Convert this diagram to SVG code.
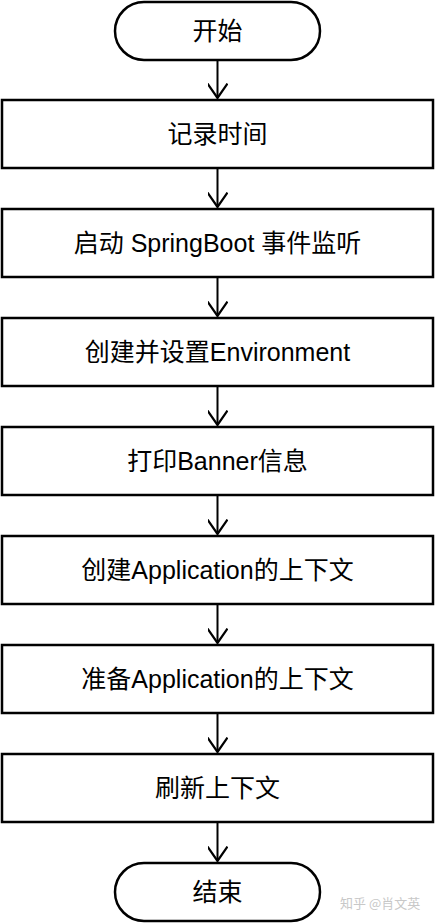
<svg xmlns="http://www.w3.org/2000/svg" width="435" height="924" viewBox="0 0 435 924">
<defs>
<style>
.shape{fill:#fff;stroke:#000;stroke-width:2.5}
.lbl{font-family:"Liberation Sans","Noto Sans CJK SC",sans-serif;font-size:25px;fill:#000;text-anchor:middle}
.conn{stroke:#000;stroke-width:2;fill:none}
.wm{font-family:"Noto Sans CJK SC",sans-serif;font-size:13px;fill:#c8c8c8}
</style>
<marker id="arr" markerWidth="16" markerHeight="20" refX="13" refY="9" orient="auto" markerUnits="userSpaceOnUse" viewBox="0 0 14 18">
<path d="M0,0 L13,9 L0,18" fill="none" stroke="#000" stroke-width="2"/>
</marker>
</defs>
<rect width="435" height="924" fill="#fff"/>
<g id="connectors">
<line class="conn" x1="217.5" y1="60" x2="217.5" y2="98" marker-end="url(#arr)"/>
<line class="conn" x1="217.5" y1="168" x2="217.5" y2="207" marker-end="url(#arr)"/>
<line class="conn" x1="217.5" y1="277" x2="217.5" y2="316" marker-end="url(#arr)"/>
<line class="conn" x1="217.5" y1="386" x2="217.5" y2="425" marker-end="url(#arr)"/>
<line class="conn" x1="217.5" y1="495" x2="217.5" y2="534" marker-end="url(#arr)"/>
<line class="conn" x1="217.5" y1="604" x2="217.5" y2="643" marker-end="url(#arr)"/>
<line class="conn" x1="217.5" y1="713" x2="217.5" y2="752" marker-end="url(#arr)"/>
<line class="conn" x1="217.5" y1="822" x2="217.5" y2="861" marker-end="url(#arr)"/>
</g>
<g id="start">
<rect class="shape" x="115" y="2" width="205" height="58" rx="29" ry="29"/>
<text class="lbl" x="217.5" y="40">开始</text>
</g>
<g id="n1">
<rect class="shape" x="2" y="100" width="431" height="68"/>
<text class="lbl" x="217.5" y="143">记录时间</text>
</g>
<g id="n2">
<rect class="shape" x="2" y="209" width="431" height="68"/>
<text class="lbl" x="217.5" y="252">启动 SpringBoot 事件监听</text>
</g>
<g id="n3">
<rect class="shape" x="2" y="318" width="431" height="68"/>
<text class="lbl" x="217.5" y="361">创建并设置Environment</text>
</g>
<g id="n4">
<rect class="shape" x="2" y="427" width="431" height="68"/>
<text class="lbl" x="217.5" y="470">打印Banner信息</text>
</g>
<g id="n5">
<rect class="shape" x="2" y="536" width="431" height="68"/>
<text class="lbl" x="217.5" y="579">创建Application的上下文</text>
</g>
<g id="n6">
<rect class="shape" x="2" y="645" width="431" height="68"/>
<text class="lbl" x="217.5" y="688">准备Application的上下文</text>
</g>
<g id="n7">
<rect class="shape" x="2" y="754" width="431" height="68"/>
<text class="lbl" x="217.5" y="797">刷新上下文</text>
</g>
<g id="end">
<rect class="shape" x="115" y="863" width="205" height="58" rx="29" ry="29"/>
<text class="lbl" x="217.5" y="901">结束</text>
</g>
<text class="wm" x="340" y="908">知乎 @肖文英</text>
</svg>
